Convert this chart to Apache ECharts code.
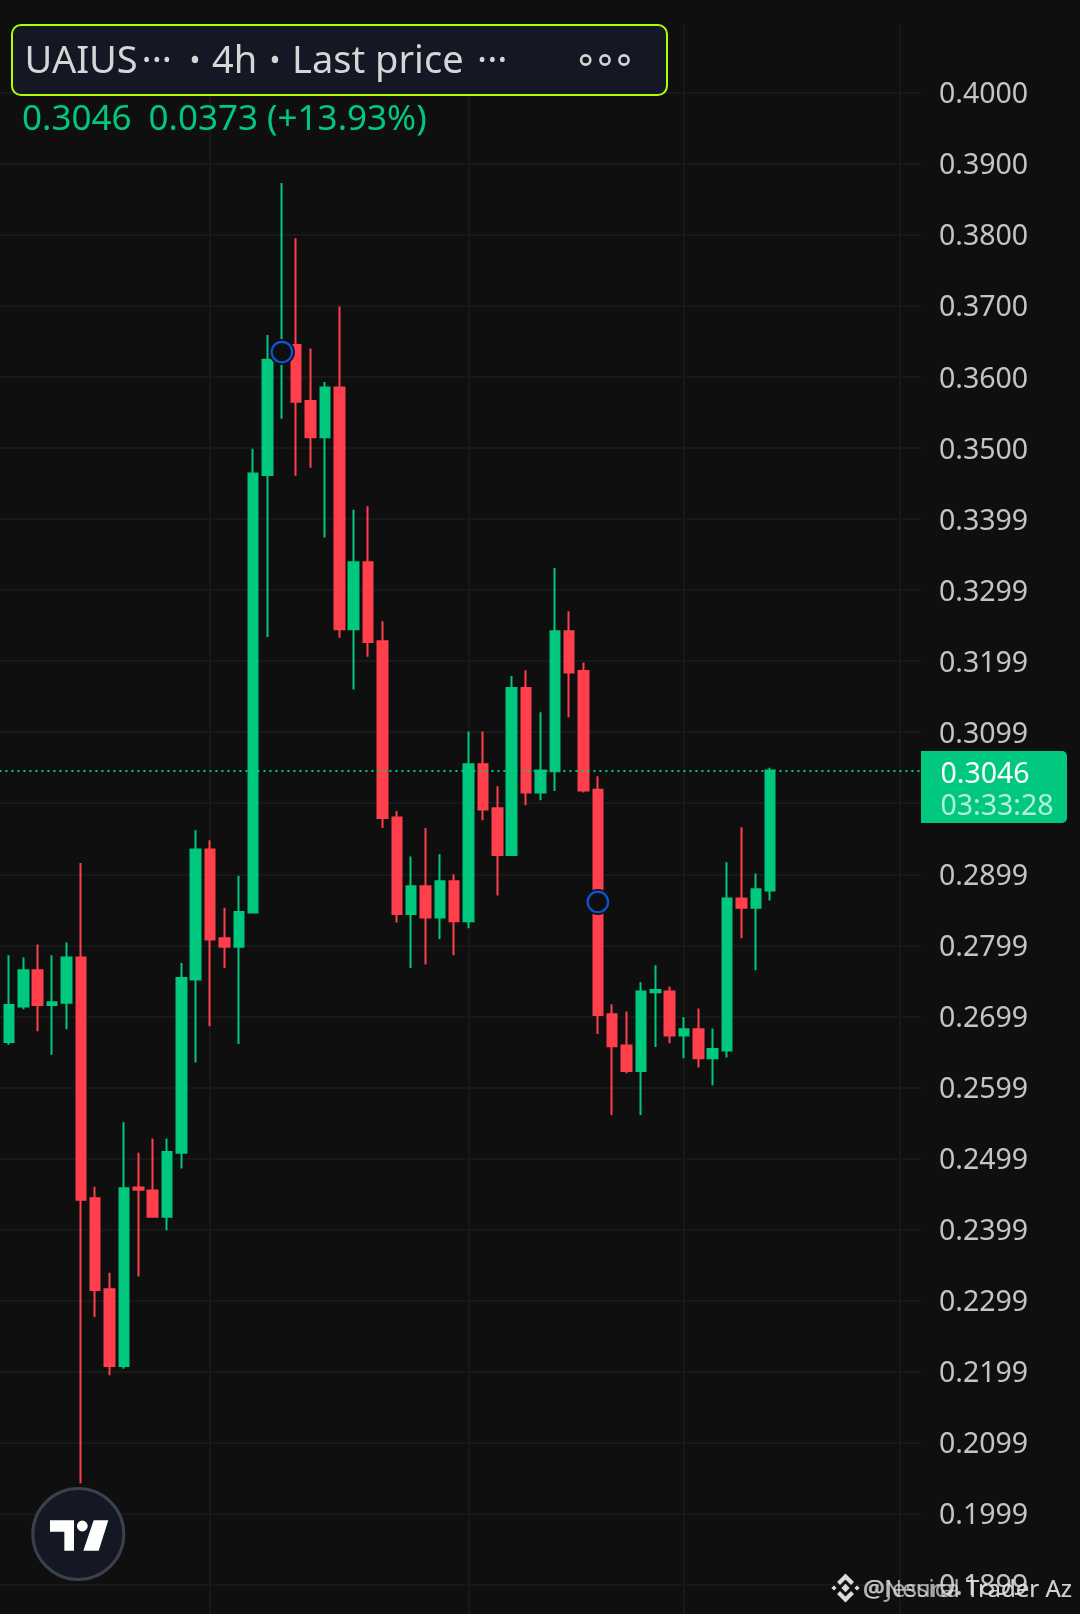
<!DOCTYPE html>
<html>
<head>
<meta charset="utf-8">
<style>html,body{margin:0;padding:0;background:#0f0f0f}#c{width:1080px;height:1614px}</style>
<script src="https://cdn.jsdelivr.net/npm/echarts@6/dist/echarts.min.js"></script>
</head>
<body>
<div id="c"></div>
<script>
const opens  = [.2664,.2714,.2765,.2716,.2719,.2783,.2444,.2316,.2208,.2459,.2455,.2418,.2508,.2752,.2935,.2810,.2798,.2846,.3462,.3624,.3645,.3566,.3515,.3585,.3245,.3339,.3228,.2980,.2844,.2883,.2839,.2890,.2834,.3055,.2993,.2927,.3162,.3015,.3045,.3242,.3186,.3019,.2703,.2659,.2623,.2734,.2735,.2673,.2682,.2641,.2652,.2866,.2853,.2877];
const closes = [.2716,.2765,.2716,.2720,.2783,.2442,.2315,.2208,.2458,.2456,.2418,.2509,.2754,.2935,.2808,.2798,.2847,.3464,.3624,.3645,.3565,.3515,.3585,.3245,.3339,.3227,.2979,.2844,.2883,.2839,.2890,.2834,.3055,.2991,.2927,.3162,.3015,.3046,.3242,.3184,.3018,.2702,.2658,.2623,.2735,.2737,.2673,.2682,.2641,.2654,.2866,.2853,.2879,.3046];
const lows   = [.2660,.2710,.2679,.2646,.2682,.2043,.2277,.2195,.2204,.2334,.2418,.2399,.2486,.2635,.2686,.2768,.2661,.2846,.3234,.3541,.3461,.3472,.3374,.3233,.3160,.3206,.2965,.2832,.2768,.2773,.2809,.2786,.2824,.2976,.2870,.2927,.2997,.3004,.3017,.3121,.3015,.2675,.2561,.2620,.2561,.2657,.2662,.2641,.2628,.2603,.2642,.2810,.2765,.2863];
const highs  = [.2786,.2783,.2801,.2786,.2804,.2916,.2460,.2339,.2551,.2508,.2528,.2528,.2775,.2962,.2948,.2853,.2898,.3499,.3659,.3873,.3795,.3640,.3593,.3699,.3413,.3418,.3256,.2989,.2925,.2965,.2928,.2900,.3101,.3101,.3024,.3179,.3187,.3128,.3331,.3270,.3198,.3038,.2717,.2707,.2748,.2772,.2742,.2699,.2711,.2683,.2917,.2966,.2901,.3050];

const tickValues = [.19,.20,.21,.22,.23,.24,.25,.26,.27,.28,.29,.31,.32,.33,.34,.35,.36,.37,.38,.39,.40];
const tickLabels = ['0.1899','0.1999','0.2099','0.2199','0.2299','0.2399','0.2499','0.2599','0.2699','0.2799','0.2899','0.3099','0.3199','0.3299','0.3399','0.3500','0.3600','0.3700','0.3800','0.3900','0.4000'];

const lastPrice = 0.3046;
const signalCandles = [20, 42];
const signalPrices = [0.3635, 0.2861];
const gridCandles = [15, 33, 48, 63];

const headerSymbol = 'UAIUS';
const headerInterval = '4h';
const headerSource = 'Last price';
const headerDots = '···';
const legendPrice = '0.3046';
const legendChange = '0.0373 (+13.93%)';
const tagPrice = '0.3046';
const tagTimer = '03:33:28';
const watermarks = ['@Jessica Trader Az', '@Neural Trader Az'];

const UP = '#00C97F', DOWN = '#FF3F4C', BG = '#0F0F0F', GRID = '#181818';
const FONT = '"Noto Sans", sans-serif';

const CAT_COUNT = 65;
const categories = Array.from({length: CAT_COUNT}, (_, i) => String(i));
const candles = categories.map((_, i) => {
  const k = i - 1;
  return k >= 0 && k < opens.length ? [opens[k], closes[k], lows[k], highs[k]] : ['-', '-', '-', '-'];
});
const signals = signalCandles.map((c, i) => [String(c), signalPrices[i]]);

const txt = (text, x, base, size, fill, extra) => ({
  type: 'text', z: 200, silent: true,
  style: Object.assign({text, x, y: base - 0.22 * size, fill, font: size + 'px ' + FONT, verticalAlign: 'middle'}, extra || {})
});
const ring = (cx, cy) => ({type: 'circle', z: 200, silent: true, shape: {cx, cy, r: 4.6},
  style: {fill: 'transparent', stroke: '#d4d4d4', lineWidth: 2.6}});
const poly = (points, fill) => ({type: 'polygon', z: 200, silent: true, shape: {points}, style: {fill}});

const lx = 0, ly = 1440;
const q = (X, Y) => [lx + X / 3, ly + Y / 3];
const bx = 845.5, by = 1588, bc = '#dcdcdc';
const dia = (dx, dy, r) => poly([[bx+dx, by+dy-r],[bx+dx+r, by+dy],[bx+dx, by+dy+r],[bx+dx-r, by+dy]], bc);

const graphics = [
  {type: 'rect', z: 190, silent: true, shape: {x: 12, y: 25, width: 655, height: 70, r: 9},
    style: {fill: '#141824', stroke: '#AEFF00', lineWidth: 2}},
  txt(headerSymbol, 24.5, 71, 38, '#D6D6D6'),
  txt(headerDots, 141.5, 71, 38, '#D6D6D6'),
  txt('·', 188, 75, 52, '#D6D6D6'),
  txt(headerInterval, 212, 71, 38, '#D6D6D6'),
  txt('·', 268, 75, 52, '#D6D6D6'),
  txt(headerSource, 292, 71, 38, '#D6D6D6'),
  txt(headerDots, 477, 71, 38, '#D6D6D6'),
  ring(585.7, 60), ring(605, 60), ring(624, 60),
  txt(legendPrice, 22, 128, 35, UP),
  txt(legendChange, 148.5, 128, 35, UP),
  {type: 'rect', z: 190, silent: true, shape: {x: 921, y: 751, width: 146, height: 72, r: [0, 5, 5, 0]}, style: {fill: '#00C97F'}},
  txt(tagPrice, 940.5, 781, 28.5, '#FFFFFF'),
  txt(tagTimer, 940.5, 813.5, 28.5, 'rgba(255,255,255,0.7)'),
  {type: 'circle', z: 190, silent: true, shape: {cx: 78.3, cy: 1534, r: 45.5}, style: {fill: '#141824', stroke: '#3C404C', lineWidth: 3}},
  poly([q(150,241),q(222,241),q(222,332),q(193,332),q(193,275),q(150,275)], '#FFFFFF'),
  {type: 'circle', z: 200, silent: true, shape: {cx: 247/3, cy: 1440+258/3, r: 5.4}, style: {fill: '#FFFFFF'}},
  poly([q(281,241),q(325,241),q(296,332),q(250,332)], '#FFFFFF'),
  dia(0, 0, 4.2), dia(-11.5, 0, 2.6), dia(11.5, 0, 2.6),
  poly([[bx,by-14.5],[bx+8.5,by-6],[bx+5.5,by-3],[bx,by-8.5],[bx-5.5,by-3],[bx-8.5,by-6]], bc),
  poly([[bx,by+14.5],[bx+8.5,by+6],[bx+5.5,by+3],[bx,by+8.5],[bx-5.5,by+3],[bx-8.5,by+6]], bc),
  txt(watermarks[0], 1072, 1595, 24, 'rgba(225,225,225,0.72)', {align: 'right'}),
  txt(watermarks[1], 1072, 1595, 24, 'rgba(225,225,225,0.72)', {align: 'right'})
];

const chart = echarts.init(document.getElementById('c'), null, {renderer: 'canvas'});
chart.setOption({
  animation: false,
  backgroundColor: BG,
  grid: {left: -12.54, right: 159, top: 24, height: 1631.8, containLabel: false, outerBoundsMode: 'none'},
  xAxis: {
    type: 'category', data: categories, boundaryGap: true,
    axisLine: {show: false}, axisTick: {show: false}, axisLabel: {show: false},
    splitLine: {show: true, alignWithLabel: true,
      interval: i => gridCandles.includes(i),
      lineStyle: {color: GRID, width: 2}}
  },
  yAxis: {
    type: 'value', position: 'right', min: 0.18, max: 0.40967, interval: 0.01, scale: true,
    axisLine: {show: false}, axisTick: {show: false},
    axisLabel: {
      show: true, margin: 18, color: '#C4C4C4', fontFamily: 'Noto Sans', fontSize: 28.5, align: 'left',
      showMinLabel: true, showMaxLabel: true,
      rich: {t: {color: '#C4C4C4', fontFamily: 'Noto Sans', fontSize: 28.5, padding: [5, 0, 0, 0]}},
      formatter: v => {
        const i = tickValues.findIndex(t => Math.abs(t - v) < 1e-4);
        return i >= 0 ? '{t|' + tickLabels[i] + '}' : '';
      }
    },
    splitLine: {show: true, showMaxLine: false, lineStyle: {color: GRID, width: 2}}
  },
  graphic: graphics,
  series: [
    {
      type: 'candlestick', data: candles, barWidth: 10, silent: true,
      itemStyle: {color: UP, color0: DOWN, borderColor: UP, borderColor0: DOWN, borderWidth: 2},
      markLine: {
        silent: true, symbol: 'none', animation: false, precision: 4, label: {show: false},
        lineStyle: {color: UP, type: [2, 4], width: 1.8, opacity: 1},
        data: [{yAxis: lastPrice}]
      }
    },
    {
      type: 'scatter', data: signals, symbol: 'circle', symbolSize: 26, silent: true, z: 5,
      itemStyle: {color: BG, opacity: 1}
    },
    {
      type: 'scatter', data: signals, symbol: 'circle', symbolSize: 20.5, silent: true, z: 6,
      itemStyle: {color: BG, borderColor: '#0B55DB', borderWidth: 2.2, opacity: 1}
    }
  ]
});
</script>
</body>
</html>
